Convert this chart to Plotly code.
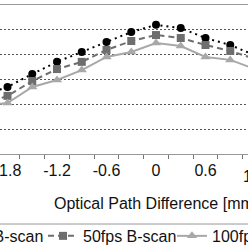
import plotly.graph_objects as go

opd = [-2.1, -1.8, -1.5, -1.2, -0.9, -0.6, -0.3, 0.0, 0.3, 0.6, 0.9, 1.2]
s25 = [2.35, 2.70, 3.22, 3.71, 4.11, 4.51, 4.91, 5.20, 5.07, 4.67, 4.39, 3.97]
s50 = [2.00, 2.34, 2.94, 3.42, 3.71, 4.19, 4.55, 4.79, 4.67, 4.39, 4.15, 3.83]
s100 = [1.95, 2.05, 2.70, 2.98, 3.38, 3.91, 4.11, 4.47, 4.35, 3.91, 3.79, 3.42]
names = ["25fps B-scan", "50fps B-scan", "100fps B-scan"]
tick_vals = [-1.8, -1.2, -0.6, 0, 0.6, 1.2]
tick_text = ["-1.8", "-1.2", "-0.6", "0", "0.6", "1.2"]

FONT = "Liberation Sans, Arial, sans-serif"
X_RANGE = [-1.891, 1.115]
LABEL_Y = -0.154
W = 248

fig = go.Figure()
fig.add_trace(go.Scatter(x=opd, y=s25, name=names[0], mode="lines+markers", legend="legend",
                         line=dict(color="#000000", width=2, dash="2px,4px"),
                         marker=dict(symbol="circle", size=8, color="#000000")))
fig.add_trace(go.Scatter(x=opd, y=s50, name=names[1], mode="lines+markers", legend="legend2",
                         line=dict(color="#6e6e6e", width=2, dash="6px,4px"),
                         marker=dict(symbol="square", size=8, color="#6e6e6e")))
fig.add_trace(go.Scatter(x=opd, y=s100, name=names[2], mode="lines+markers", legend="legend3",
                         line=dict(color="#a8a8a8", width=2),
                         marker=dict(symbol="triangle-up", size=9, color="#a8a8a8")))

leg_common = dict(orientation="h", xanchor="left", y=-0.436, yanchor="top",
                  borderwidth=0, bgcolor="rgba(0,0,0,0)", font=dict(size=16))

# labels of ticks lying just outside the visible range (clipped by the frame)
extra_ann = []
for v, t in zip(tick_vals, tick_text):
    if v > X_RANGE[1]:
        frac = (v - X_RANGE[0]) / (X_RANGE[1] - X_RANGE[0])
        half = 0.5 * 0.575 * 16 * len(t)
        extra_ann.append(dict(text=t, x=1.0, xref="paper", xanchor="left",
                              xshift=(frac - 1.0) * W - half,
                              y=LABEL_Y, yref="paper", yanchor="middle",
                              showarrow=False,
                              font=dict(size=16, family=FONT, color="#111111")))

fig.update_layout(
    width=W, height=248,
    margin=dict(l=0, r=0, t=5, b=94, autoexpand=False),
    paper_bgcolor="white", plot_bgcolor="white",
    font=dict(family=FONT, size=16, color="#111111"),
    showlegend=True,
    legend=dict(x=-0.363, **leg_common),
    legend2=dict(x=0.1734, **leg_common),
    legend3=dict(x=0.6935, **leg_common),
    xaxis=dict(range=X_RANGE, tickmode="array", tickvals=tick_vals,
               ticktext=tick_text, ticks="", showgrid=False, zeroline=False,
               showline=True, linecolor="#999999", linewidth=1, mirror=True,
               ticklabelstandoff=2, ticklabeloverflow="allow", tickfont=dict(size=16),
               minor=dict(tickmode="linear", tick0=-1.95, dtick=0.3, ticks="outside",
                          ticklen=4, tickcolor="#777777", tickwidth=1, showgrid=False)),
    yaxis=dict(range=[0, 6], tickmode="array", tickvals=[1, 2, 3, 4, 5],
               showticklabels=False, ticks="", showgrid=True, gridcolor="#555555",
               gridwidth=1, griddash="2px,2px", zeroline=False, showline=False),
    shapes=[dict(type="rect", xref="paper", yref="paper", x0=-0.6, x1=1.6,
                 y0=-0.47, y1=-0.75, line=dict(color="#999999", width=1))],
    annotations=[dict(text="Optical Path Difference [mm]", x=0, xref="x",
                      y=-0.329, yref="paper", yanchor="middle", xanchor="center",
                      showarrow=False, font=dict(size=16, family=FONT))] + extra_ann,
)

fig.write_html("out.html")
